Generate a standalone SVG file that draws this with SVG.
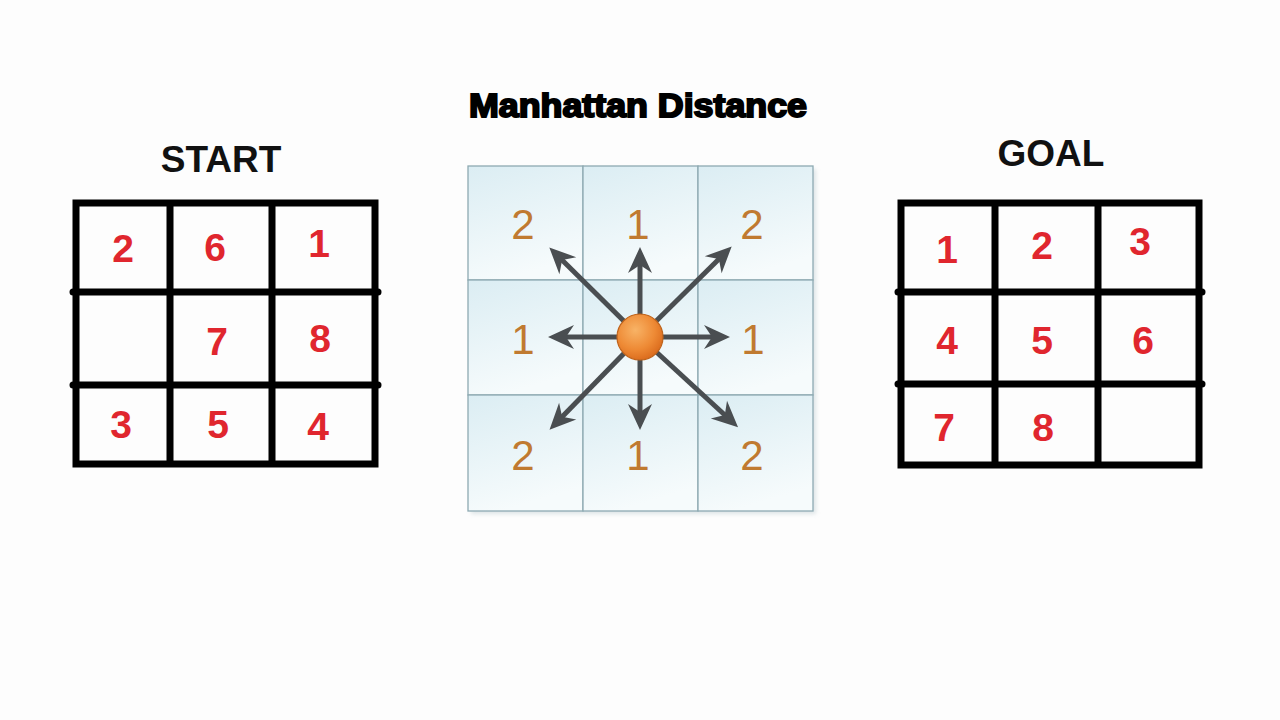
<svg xmlns="http://www.w3.org/2000/svg" width="1280" height="720" viewBox="0 0 1280 720">
<style>
.title{font-family:"Liberation Sans",Arial,sans-serif;font-weight:bold;font-size:37px;fill:#111;text-anchor:middle}
.mtitle{font-family:"Liberation Sans",Arial,sans-serif;font-weight:900;font-size:33px;fill:#000;stroke:#000;stroke-width:2;text-anchor:middle}
.tile{font-family:"Liberation Sans",Arial,sans-serif;font-weight:bold;font-size:39px;fill:#e0262e;text-anchor:middle}
.dist{font-family:"Liberation Sans",Arial,sans-serif;font-size:42px;fill:#c07a30;text-anchor:middle}
.bl{stroke:#000;stroke-width:7;fill:none}
.bv{stroke:#000;stroke-width:7;stroke-linecap:butt}
.bh{stroke:#000;stroke-width:7;stroke-linecap:round}
.cell{fill:url(#cg);stroke:#8eaab2;stroke-width:1.3}
.arr{stroke:#4a4e51;stroke-width:5;fill:none;marker-end:url(#ah)}
</style>
<defs>
<linearGradient id="cg" x1="0" y1="0" x2="0.3" y2="1">
<stop offset="0" stop-color="#dbedf3"/>
<stop offset="1" stop-color="#f6fbfc"/>
</linearGradient>
<radialGradient id="og" cx="0.4" cy="0.35" r="0.7">
<stop offset="0" stop-color="#f8b366"/>
<stop offset="0.6" stop-color="#ee8a35"/>
<stop offset="1" stop-color="#d9681a"/>
</radialGradient>
<marker id="ah" markerUnits="userSpaceOnUse" viewBox="-13 -14 30 28" refX="0" refY="0" markerWidth="30" markerHeight="28" orient="auto">
<path d="M15,0 L-11,-12 L-3,0 L-11,12 Z" fill="#4a4e51"/>
</marker>
<filter id="sh" x="-5%" y="-5%" width="110%" height="110%">
<feGaussianBlur stdDeviation="2"/>
</filter>
</defs>
<rect width="1280" height="720" fill="#fdfdfd"/>

<g id="start">
<text class="title" x="221" y="172">START</text>
<rect class="bl" x="76" y="203" width="299" height="261"/>
<line class="bv" x1="170" y1="203" x2="170" y2="464"/>
<line class="bv" x1="272" y1="203" x2="272" y2="464"/>
<line class="bh" x1="73" y1="292" x2="378" y2="292"/>
<line class="bh" x1="73" y1="385" x2="378" y2="385"/>
<text class="tile" x="123" y="262">2</text>
<text class="tile" x="215" y="261">6</text>
<text class="tile" x="319" y="257">1</text>
<text class="tile" x="217" y="355">7</text>
<text class="tile" x="320" y="352">8</text>
<text class="tile" x="121" y="438">3</text>
<text class="tile" x="218" y="438">5</text>
<text class="tile" x="318" y="440">4</text>
</g>

<g id="goal">
<text class="title" x="1051" y="166">GOAL</text>
<rect class="bl" x="901" y="203" width="298" height="262"/>
<line class="bv" x1="995" y1="203" x2="995" y2="465"/>
<line class="bv" x1="1098" y1="203" x2="1098" y2="465"/>
<line class="bh" x1="898" y1="292" x2="1202" y2="292"/>
<line class="bh" x1="898" y1="384" x2="1202" y2="384"/>
<text class="tile" x="947" y="263">1</text>
<text class="tile" x="1042" y="259">2</text>
<text class="tile" x="1140" y="255">3</text>
<text class="tile" x="947" y="354">4</text>
<text class="tile" x="1042" y="354">5</text>
<text class="tile" x="1143" y="354">6</text>
<text class="tile" x="944" y="441">7</text>
<text class="tile" x="1043" y="441">8</text>
</g>

<g id="manhattan">
<text class="mtitle" x="638" y="117" textLength="338" lengthAdjust="spacingAndGlyphs">Manhattan Distance</text>
<rect x="471" y="169" width="345" height="345" fill="#c8d4d8" filter="url(#sh)" opacity="0.6"/>
<rect class="cell" x="468" y="166" width="115" height="114"/>
<rect class="cell" x="583" y="166" width="115" height="114"/>
<rect class="cell" x="698" y="166" width="115" height="114"/>
<rect class="cell" x="468" y="280" width="115" height="115"/>
<rect class="cell" x="583" y="280" width="115" height="115"/>
<rect class="cell" x="698" y="280" width="115" height="115"/>
<rect class="cell" x="468" y="395" width="115" height="116"/>
<rect class="cell" x="583" y="395" width="115" height="116"/>
<rect class="cell" x="698" y="395" width="115" height="116"/>
<text class="dist" x="523" y="239">2</text>
<text class="dist" x="638" y="239">1</text>
<text class="dist" x="752" y="239">2</text>
<text class="dist" x="523" y="354">1</text>
<text class="dist" x="753" y="354">1</text>
<text class="dist" x="523" y="470">2</text>
<text class="dist" x="638" y="470">1</text>
<text class="dist" x="752" y="470">2</text>
</g>

<g id="connectors">
<line class="arr" x1="640" y1="337" x2="640" y2="262"/>
<line class="arr" x1="640" y1="337" x2="640" y2="415"/>
<line class="arr" x1="640" y1="337" x2="563" y2="337"/>
<line class="arr" x1="640" y1="337" x2="715" y2="337"/>
<line class="arr" x1="640" y1="337" x2="560" y2="258"/>
<line class="arr" x1="640" y1="337" x2="721" y2="257"/>
<line class="arr" x1="640" y1="337" x2="560" y2="419"/>
<line class="arr" x1="640" y1="337" x2="727" y2="417"/>
</g>

<g id="center">
<circle cx="640" cy="337" r="23" fill="url(#og)" stroke="#c0641c" stroke-width="1.2"/>
</g>
</svg>
